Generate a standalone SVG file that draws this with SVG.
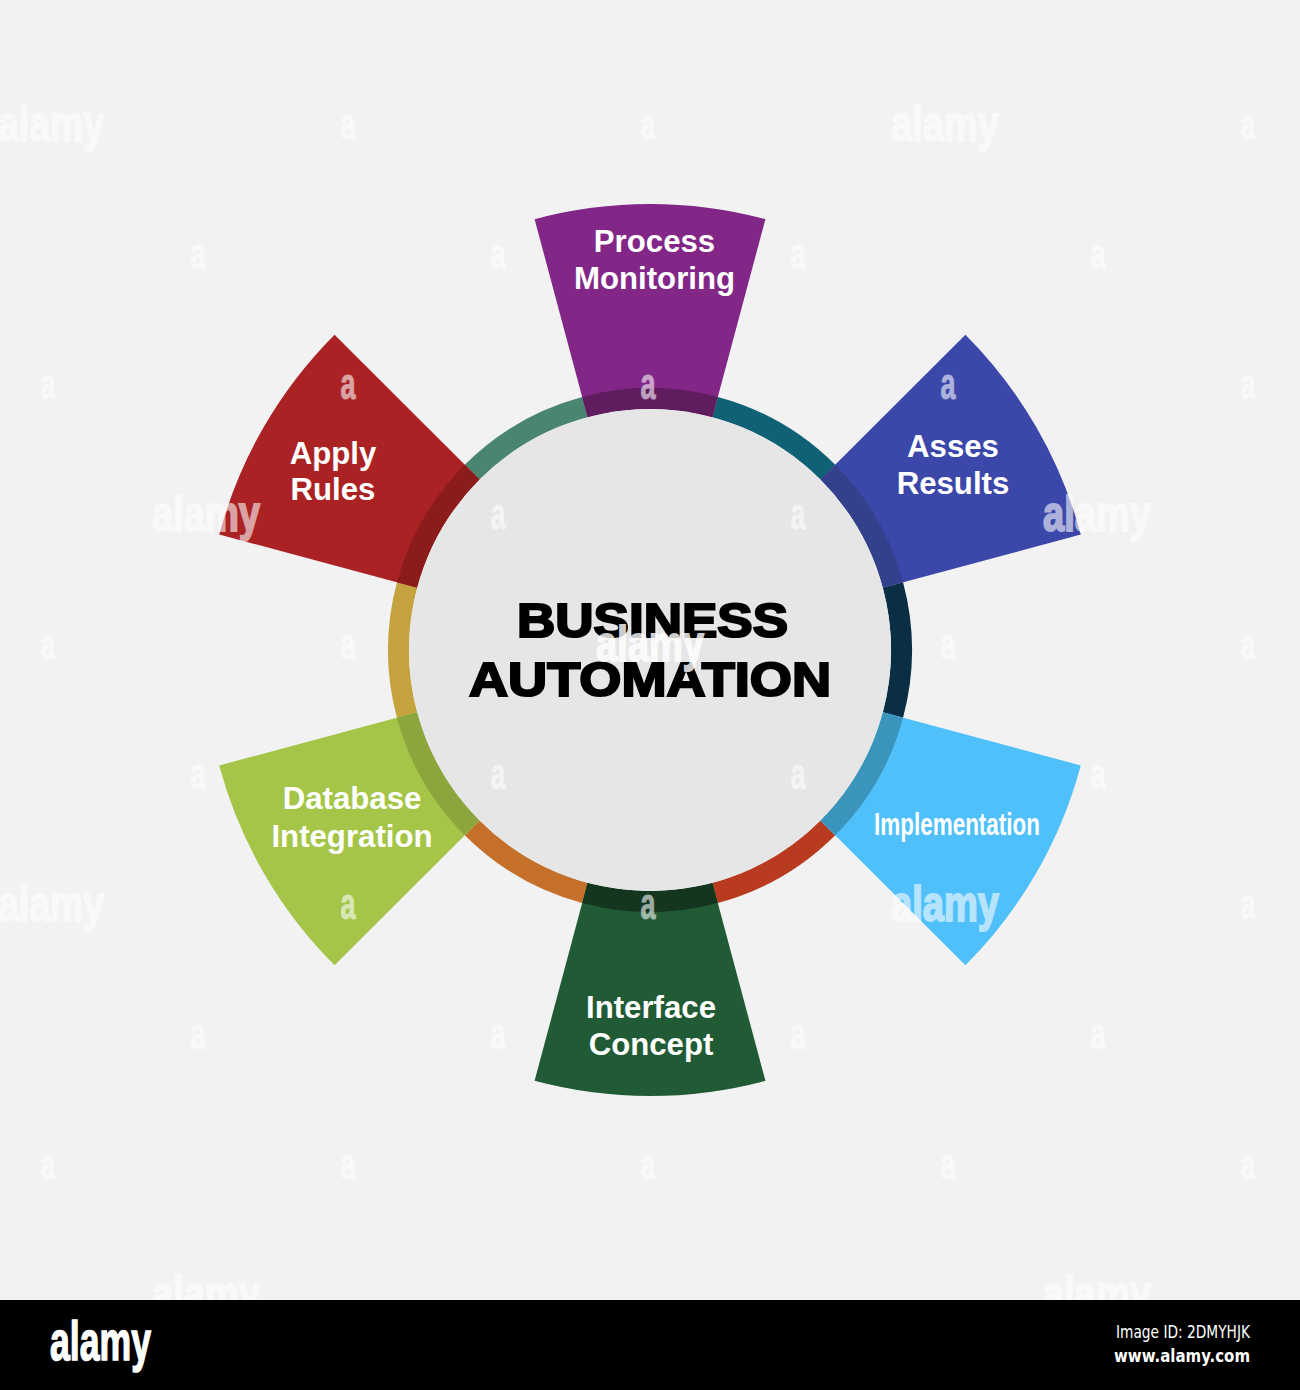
<svg xmlns="http://www.w3.org/2000/svg" width="1300" height="1390" viewBox="0 0 1300 1390">
<style>
text{font-family:"Liberation Sans",Arial,sans-serif;font-weight:700}
.l{fill:#fff;font-size:31.2px;text-anchor:middle}
.t{fill:#000;font-size:49px;text-anchor:middle;stroke:#000;stroke-width:2.2px}
.a{fill:#fff;stroke:#fff;stroke-width:1px;opacity:.58;font-size:44px;text-anchor:middle}
.w{fill:#fff;stroke:#fff;stroke-width:2px;opacity:.58;font-size:50px;text-anchor:middle}
.s{fill:none;stroke-width:21}
</style>
<defs>
<path id="wedge" d="M534.6 219.2A446 446 0 0 1 765.4 219.2L712.4 417.2A241 241 0 0 0 587.6 417.2Z"/>
<path id="band" class="s" d="M584.9 407.1A251.5 251.5 0 0 1 715.1 407.1"/>
<path id="seg" class="s" d="M715.1 407.1A251.5 251.5 0 0 1 827.8 472.2"/>
</defs>
<rect width="1300" height="1390" fill="#f2f2f2"/>
<g id="ring">
<use href="#seg" stroke="#0f6175"/>
<use href="#seg" stroke="#0a2f45" transform="rotate(60 650 650)"/>
<use href="#seg" stroke="#b83b1f" transform="rotate(120 650 650)"/>
<use href="#seg" stroke="#c5702a" transform="rotate(180 650 650)"/>
<use href="#seg" stroke="#c4a23e" transform="rotate(240 650 650)"/>
<use href="#seg" stroke="#4a8572" transform="rotate(300 650 650)"/>
</g>
<g id="node-process-monitoring">
<use href="#wedge" fill="#822787"/>
<use href="#band" stroke="#5f1d60"/>
<text class="l" x="654.5" y="252">Process</text>
<text class="l" x="654.5" y="289">Monitoring</text>
</g>
<g id="node-asses-results">
<use href="#wedge" fill="#3b47a9" transform="rotate(60 650 650)"/>
<use href="#band" stroke="#33408c" transform="rotate(60 650 650)"/>
<text class="l" x="953" y="457">Asses</text>
<text class="l" x="953" y="494">Results</text>
</g>
<g id="node-implementation">
<use href="#wedge" fill="#4fc0fa" transform="rotate(120 650 650)"/>
<use href="#band" stroke="#3a94bc" transform="rotate(120 650 650)"/>
<text class="l" x="957" y="835" textLength="166" lengthAdjust="spacingAndGlyphs">Implementation</text>
</g>
<g id="node-interface-concept">
<use href="#wedge" fill="#215b36" transform="rotate(180 650 650)"/>
<use href="#band" stroke="#14361f" transform="rotate(180 650 650)"/>
<text class="l" x="651" y="1018">Interface</text>
<text class="l" x="651" y="1055">Concept</text>
</g>
<g id="node-database-integration">
<use href="#wedge" fill="#a4c547" transform="rotate(240 650 650)"/>
<use href="#band" stroke="#8ca53c" transform="rotate(240 650 650)"/>
<text class="l" x="352" y="809">Database</text>
<text class="l" x="352" y="847">Integration</text>
</g>
<g id="node-apply-rules">
<use href="#wedge" fill="#ab2225" transform="rotate(300 650 650)"/>
<use href="#band" stroke="#8c1c1c" transform="rotate(300 650 650)"/>
<text class="l" x="333" y="464">Apply</text>
<text class="l" x="333" y="500">Rules</text>
</g>
<g id="node-center">
<circle cx="650" cy="650" r="241" fill="#e6e6e6"/>
<text class="t" x="652.5" y="637" textLength="271" lengthAdjust="spacingAndGlyphs">BUSINESS</text>
<text class="t" x="650" y="695.5" textLength="362" lengthAdjust="spacingAndGlyphs">AUTOMATION</text>
</g>
<g id="watermark">
<text class="w" x="51" y="141" textLength="106" lengthAdjust="spacingAndGlyphs">alamy</text>
<text class="w" x="945" y="141" textLength="108" lengthAdjust="spacingAndGlyphs">alamy</text>
<text class="w" x="206" y="531" textLength="108" lengthAdjust="spacingAndGlyphs">alamy</text>
<text class="w" x="1097" y="531" textLength="108" lengthAdjust="spacingAndGlyphs">alamy</text>
<text class="w" x="650" y="661" textLength="108" lengthAdjust="spacingAndGlyphs" style="opacity:.8">alamy</text>
<text class="w" x="51" y="921" textLength="106" lengthAdjust="spacingAndGlyphs">alamy</text>
<text class="w" x="945" y="921" textLength="108" lengthAdjust="spacingAndGlyphs">alamy</text>
<text class="w" x="206" y="1311" textLength="108" lengthAdjust="spacingAndGlyphs">alamy</text>
<text class="w" x="1097" y="1311" textLength="108" lengthAdjust="spacingAndGlyphs">alamy</text>
<text class="a" x="348" y="139" textLength="15" lengthAdjust="spacingAndGlyphs">a</text>
<text class="a" x="648" y="139" textLength="15" lengthAdjust="spacingAndGlyphs">a</text>
<text class="a" x="1248" y="139" textLength="15" lengthAdjust="spacingAndGlyphs">a</text>
<text class="a" x="198" y="269" textLength="15" lengthAdjust="spacingAndGlyphs">a</text>
<text class="a" x="498" y="269" textLength="15" lengthAdjust="spacingAndGlyphs">a</text>
<text class="a" x="798" y="269" textLength="15" lengthAdjust="spacingAndGlyphs">a</text>
<text class="a" x="1098" y="269" textLength="15" lengthAdjust="spacingAndGlyphs">a</text>
<text class="a" x="48" y="399" textLength="15" lengthAdjust="spacingAndGlyphs">a</text>
<text class="a" x="348" y="399" textLength="15" lengthAdjust="spacingAndGlyphs">a</text>
<text class="a" x="648" y="399" textLength="15" lengthAdjust="spacingAndGlyphs">a</text>
<text class="a" x="948" y="399" textLength="15" lengthAdjust="spacingAndGlyphs">a</text>
<text class="a" x="1248" y="399" textLength="15" lengthAdjust="spacingAndGlyphs">a</text>
<text class="a" x="498" y="529" textLength="15" lengthAdjust="spacingAndGlyphs">a</text>
<text class="a" x="798" y="529" textLength="15" lengthAdjust="spacingAndGlyphs">a</text>
<text class="a" x="48" y="659" textLength="15" lengthAdjust="spacingAndGlyphs">a</text>
<text class="a" x="348" y="659" textLength="15" lengthAdjust="spacingAndGlyphs">a</text>
<text class="a" x="948" y="659" textLength="15" lengthAdjust="spacingAndGlyphs">a</text>
<text class="a" x="1248" y="659" textLength="15" lengthAdjust="spacingAndGlyphs">a</text>
<text class="a" x="198" y="789" textLength="15" lengthAdjust="spacingAndGlyphs">a</text>
<text class="a" x="498" y="789" textLength="15" lengthAdjust="spacingAndGlyphs">a</text>
<text class="a" x="798" y="789" textLength="15" lengthAdjust="spacingAndGlyphs">a</text>
<text class="a" x="1098" y="789" textLength="15" lengthAdjust="spacingAndGlyphs">a</text>
<text class="a" x="348" y="919" textLength="15" lengthAdjust="spacingAndGlyphs">a</text>
<text class="a" x="648" y="919" textLength="15" lengthAdjust="spacingAndGlyphs">a</text>
<text class="a" x="1248" y="919" textLength="15" lengthAdjust="spacingAndGlyphs">a</text>
<text class="a" x="198" y="1049" textLength="15" lengthAdjust="spacingAndGlyphs">a</text>
<text class="a" x="498" y="1049" textLength="15" lengthAdjust="spacingAndGlyphs">a</text>
<text class="a" x="798" y="1049" textLength="15" lengthAdjust="spacingAndGlyphs">a</text>
<text class="a" x="1098" y="1049" textLength="15" lengthAdjust="spacingAndGlyphs">a</text>
<text class="a" x="48" y="1179" textLength="15" lengthAdjust="spacingAndGlyphs">a</text>
<text class="a" x="348" y="1179" textLength="15" lengthAdjust="spacingAndGlyphs">a</text>
<text class="a" x="648" y="1179" textLength="15" lengthAdjust="spacingAndGlyphs">a</text>
<text class="a" x="948" y="1179" textLength="15" lengthAdjust="spacingAndGlyphs">a</text>
<text class="a" x="1248" y="1179" textLength="15" lengthAdjust="spacingAndGlyphs">a</text>
</g>
<g id="footer">
<rect y="1300" width="1300" height="90" fill="#000"/>
<text x="50" y="1360" fill="#fff" stroke="#fff" stroke-width="1.5" font-size="55" textLength="101" lengthAdjust="spacingAndGlyphs">alamy</text>
<text x="1250" y="1338" fill="#fff" font-size="17" text-anchor="end" textLength="134" lengthAdjust="spacingAndGlyphs" style="font-weight:400;font-family:'DejaVu Sans',sans-serif">Image ID: 2DMYHJK</text>
<text x="1250" y="1362" fill="#fff" font-size="18" text-anchor="end" textLength="136" lengthAdjust="spacingAndGlyphs" style="font-family:'DejaVu Sans',sans-serif">www.alamy.com</text>
</g>
</svg>
